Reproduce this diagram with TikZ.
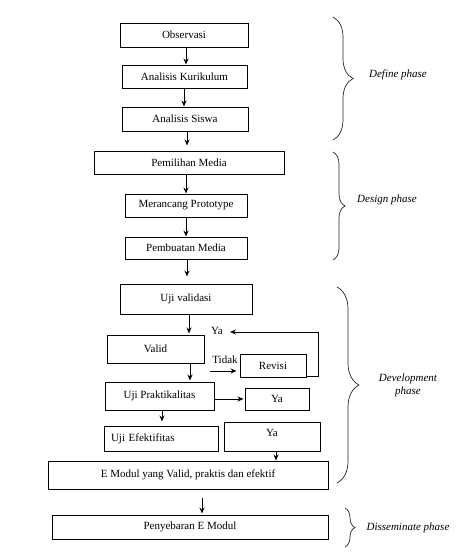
\documentclass[tikz,border=0pt]{standalone}
\usepackage{fontspec}
\setmainfont{Liberation Serif}
\usetikzlibrary{arrows.meta,decorations.pathreplacing}
\begin{document}
\begin{tikzpicture}[x=1pt,y=-1pt,
  box/.style={draw=black,line width=1pt,inner sep=1pt,font=\fontsize{11}{13}\selectfont},
  arr/.style={line width=1pt,-{Stealth[length=6pt,width=5pt]}},
  lbl/.style={font=\fontsize{11}{13}\selectfont,inner sep=0pt},
  phase/.style={font=\fontsize{11}{13}\selectfont\itshape,align=center,inner sep=0pt},
  brc/.style={line width=0.7pt,draw=black!85,decorate}]
\useasboundingbox (0,0) rectangle (474,557);
% boxes
\node[box,minimum width=128,minimum height=24] (obs) at (184,35) {Observasi};
\node[box,minimum width=125,minimum height=23] (kur) at (184.5,76.5) {Analisis Kurikulum};
\node[box,minimum width=126,minimum height=24] (sis) at (185,119) {Analisis Siswa};
\node[box,minimum width=190,minimum height=23] (pem) at (189,162.5) {Pemilihan Media};
\node[box,minimum width=122,minimum height=23] (mer) at (186,205.5) {Merancang Prototype};
\node[box,minimum width=122,minimum height=22] (pbm) at (186,248) {Pembuatan Media};
\node[box,minimum width=132,minimum height=30] (uji) at (186,299) {Uji validasi};
\node[box,minimum width=97,minimum height=28] (val) at (155.5,349) {Valid};
\node[box,minimum width=66,minimum height=23] (rev) at (273,365.5) {Revisi};
\node[box,minimum width=109,minimum height=28] (pra) at (159.5,396) {Uji Praktikalitas};
\node[box,minimum width=64,minimum height=22] (ya1) at (277,399) {Ya};
\node[box,minimum width=114,minimum height=25,inner xsep=7pt,text width=100pt,align=left] (efe) at (161,438.5) {Uji Efektifitas};
\node[box,minimum width=96,minimum height=29,text depth=8pt] (ya2) at (272,436.5) {Ya};
\node[box,minimum width=280,minimum height=28] (emod) at (188,475) {E Modul yang Valid, praktis dan efektif};
\node[box,minimum width=276,minimum height=24] (pen) at (190,527) {Penyebaran E Modul};
% labels
\node[lbl] (ya) at (217,331) {Ya};
\node[lbl] (tidak) at (225,360) {Tidak};
% coordinates
\coordinate (c1) at (186,47);
\coordinate (c2) at (184,88);
\coordinate (c3) at (187,131);
\coordinate (c4) at (186,174);
\coordinate (c5) at (186,217);
\coordinate (c6) at (187,259);
\coordinate (c7) at (189,314);
\coordinate (c8) at (190,363);
\coordinate (c9) at (162,410);
\coordinate (c10) at (276,451);
\coordinate (c11) at (202,489);
\coordinate (td) at (210,371);
\coordinate (r1) at (306,376);
\coordinate (r2) at (318,376);
\coordinate (r3) at (318,332);
\coordinate (r4) at (230,332);
% arrows
\draw[arr] (c1) -- (c1 |- kur.north);
\draw[arr] (c2) -- (c2 |- sis.north);
\draw[arr,shorten >=5pt] (c3) -- (c3 |- pem.north);
\draw[arr] (c4) -- (c4 |- mer.north);
\draw[arr] (c5) -- (c5 |- pbm.north);
\draw[arr,shorten >=7pt] (c6) -- (c6 |- uji.north);
\draw[arr,shorten >=1pt] (c7) -- (c7 |- val.north);
\draw[arr,shorten >=1pt] (c8) -- (c8 |- pra.north);
\draw[arr,shorten >=4pt] (c9) -- (c9 |- efe.north);
\draw[arr] (c10) -- (c10 |- emod.north);
\draw[arr,shorten <=9pt,shorten >=1pt] (c11) -- (c11 |- pen.north);
\draw[arr,shorten >=3pt] (td) -- (td -| rev.west);
\draw[arr] (r1) -- (r2) -- (r3) -- (r4);
\draw[arr,shorten >=1pt] (pra.east |- ya1.west) -- (ya1.west);
% braces
\draw[brc,decoration={brace,amplitude=20pt}] (333,17) -- (333,140);
\draw[brc,decoration={brace,amplitude=12pt}] (333,152) -- (333,260);
\draw[brc,decoration={brace,amplitude=22pt}] (337,287) -- (337,483);
\draw[brc,decoration={brace,amplitude=10pt}] (345,508) -- (345,547);
\node[phase] (p1) at (398,75) {Define phase};
\node[phase] (p2) at (387,200) {Design phase};
\node[phase] (p3) at (408,385) {Development\\phase};
\node[phase] (p4) at (408,528) {Disseminate phase};
\end{tikzpicture}
\end{document}
